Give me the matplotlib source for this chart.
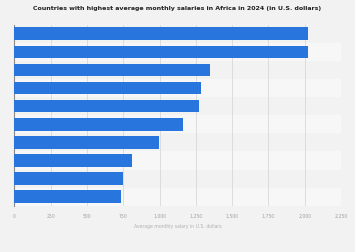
import matplotlib
matplotlib.use("Agg")
import matplotlib.pyplot as plt

countries = ["Country 1", "Country 2", "Country 3", "Country 4", "Country 5",
             "Country 6", "Country 7", "Country 8", "Country 9", "Country 10"]
salaries = [2026, 2021, 1347, 1285, 1271, 1163, 996, 810, 746, 732]
xticks = [0, 250, 500, 750, 1000, 1250, 1500, 1750, 2000, 2250]
xticklabels = ["0", "250", "500", "750", "1,000", "1,250", "1,500", "1,750", "2,000", "2,250"]

fig = plt.figure(figsize=(3.55, 2.53), dpi=100)
fig.patch.set_facecolor("#f2f2f2")
ax = fig.add_axes([0.0403, 0.183, 0.9203, 0.7154])
ax.set_facecolor("#f2f2f2")

n = len(salaries)
ypos = list(range(n))
for i in ypos:
    ax.axhspan(i - 0.5, i + 0.5, color="#f7f7f7" if i % 2 == 1 else "#f2f2f2", zorder=0, lw=0)

ax.barh(ypos, salaries, height=0.7, color="#2876dd", zorder=3)
ax.set_ylim(n - 0.5, -0.5)
ax.set_xlim(0, 2250)
ax.set_yticks(ypos)
ax.set_yticklabels([])
ax.tick_params(axis="y", length=0)
ax.set_xticks(xticks)
ax.set_xticklabels(xticklabels, fontsize=3.3, color="#a0a0a0")
ax.tick_params(axis="x", length=0, pad=5)
ax.grid(axis="x", color="#d8d8d8", lw=0.6, zorder=1)
for s in ["top", "right", "bottom"]:
    ax.spines[s].set_visible(False)
ax.spines["left"].set_color("#888888")
ax.spines["left"].set_linewidth(0.8)
ax.set_xlabel("Average monthly salary in U.S. dollars", fontsize=3.3, color="#b0b0b0", labelpad=4)

fig.text(0.5, 0.965, "Countries with highest average monthly salaries in Africa in 2024 (in U.S. dollars)",
         ha="center", va="center", fontsize=4.5, fontweight="bold", color="#222222")

fig.savefig("out.png", dpi=100, facecolor=fig.get_facecolor())
